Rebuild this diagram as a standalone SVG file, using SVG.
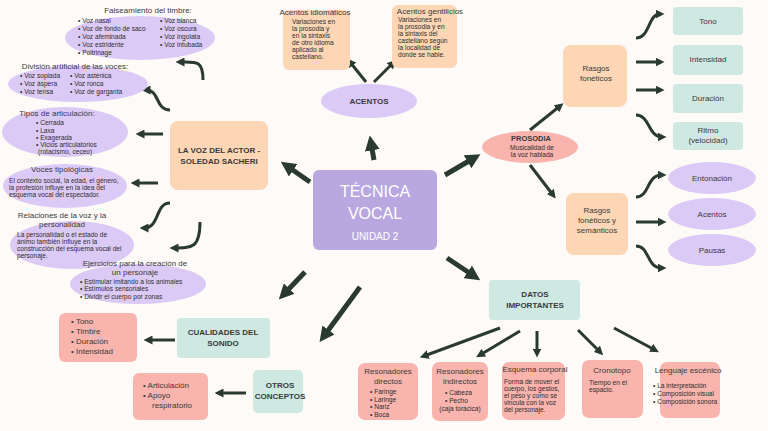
<svg xmlns="http://www.w3.org/2000/svg" width="768" height="431" viewBox="0 0 768 431">
<defs>
<marker id="ah" viewBox="0 0 10 10" refX="5" refY="5" markerWidth="3" markerHeight="3" orient="auto"><path d="M0,0 L10,5 L0,10 z" fill="#2b3a30"/></marker>
<style>
text{font-family:"Liberation Sans",Arial,sans-serif;fill:#2e2e2e}
.t{font-size:8px;font-weight:bold;fill:#3a3a3a}
.s{font-size:6.6px}
.m{font-size:8px;fill:#3a3a3a}
.c{text-anchor:middle}
.pu{fill:#dccaf6}
.pe{fill:#fdd6b5}
.te{fill:#cde9e2}
.pk{fill:#f8b4ad}
.a{fill:none;stroke:#2b3a30;stroke-width:3;marker-end:url(#ah)}
.A{fill:none;stroke:#2b3a30;stroke-width:5;marker-end:url(#ah)}
</style>
</defs>
<rect width="768" height="431" fill="#fdfaf7"/>
<g id="connectors">
<line class="A" x1="310" y1="182" x2="287" y2="166"/>
<line class="A" x1="374" y1="160" x2="371" y2="143"/>
<line class="A" x1="445" y1="175" x2="474" y2="158"/>
<line class="A" x1="447" y1="258" x2="474" y2="276"/>
<line class="A" x1="305" y1="272" x2="284" y2="294"/>
<line class="A" x1="360" y1="287" x2="324" y2="336"/>
<line class="a" x1="366" y1="82" x2="350" y2="62"/>
<line class="a" x1="374" y1="82" x2="393" y2="63"/>
<line class="a" x1="530" y1="130" x2="560" y2="106"/>
<line class="a" x1="530" y1="165" x2="553" y2="195"/>
<path class="a" d="M636,38 C650,38 648,14 660,14"/>
<line class="a" x1="636" y1="62" x2="660" y2="62"/>
<line class="a" x1="636" y1="90" x2="660" y2="90"/>
<path class="a" d="M636,115 C650,115 648,137 662,137"/>
<path class="a" d="M636,197 C650,197 646,175 662,175"/>
<line class="a" x1="636" y1="222" x2="662" y2="222"/>
<path class="a" d="M636,246 C650,246 646,268 662,268"/>
<line class="a" x1="500" y1="328" x2="424" y2="356"/>
<line class="a" x1="520" y1="331" x2="480" y2="355"/>
<line class="a" x1="537" y1="331" x2="537" y2="353"/>
<line class="a" x1="578" y1="330" x2="600" y2="352"/>
<line class="a" x1="614" y1="328" x2="655" y2="350"/>
<line class="a" x1="175" y1="340" x2="148" y2="340"/>
<line class="a" x1="246" y1="393" x2="219" y2="393"/>
<path class="a" d="M203,80 C203,60 196,62 180,62"/>
<path class="a" d="M170,110 C155,110 160,90 146,90"/>
<line class="a" x1="163" y1="134" x2="140" y2="134"/>
<line class="a" x1="158" y1="183" x2="135" y2="183"/>
<path class="a" d="M170,203 C155,203 160,228 144,228"/>
<path class="a" d="M200,222 C200,248 192,248 174,248"/>
</g>
<g id="center"><rect x="313" y="170" width="124" height="80" rx="6" fill="#b9a7e0"/><text x="375" y="197" class="c" style="font-size:16px;fill:#fff">TÉCNICA</text><text x="375" y="219" class="c" style="font-size:16px;fill:#fff">VOCAL</text><text x="375" y="240" class="c" style="font-size:10px;fill:#fff">UNIDAD 2</text></g>
<g id="falseamiento"><ellipse cx="140" cy="38" rx="75" ry="22" class="pu"/><text x="148" y="13" class="c m">Falseamiento del timbre:</text>
<text class="s" x="78" y="23">• Voz nasal</text><text class="s" x="78" y="31">• Voz de fondo de saco</text><text class="s" x="78" y="39">• Voz afeminada</text><text class="s" x="78" y="47">• Voz estridente</text><text class="s" x="78" y="55">• Poitrinage</text>
<text class="s" x="160" y="23">• Voz blanca</text><text class="s" x="160" y="31">• Voz oscura</text><text class="s" x="160" y="39">• Voz ingolata</text><text class="s" x="160" y="47">• Voz intubada</text></g>
<g id="division"><ellipse cx="78" cy="84" rx="70" ry="18" class="pu"/><text x="75" y="69" class="c m">División artificial de las voces:</text>
<text class="s" x="20" y="78">• Voz soplada</text><text class="s" x="20" y="86">• Voz áspera</text><text class="s" x="20" y="94">• Voz tensa</text>
<text class="s" x="70" y="78">• Voz asténica</text><text class="s" x="70" y="86">• Voz ronca</text><text class="s" x="70" y="94">• Voz de garganta</text></g>
<g id="tipos"><ellipse cx="65" cy="132" rx="63" ry="25" class="pu"/><text x="57" y="116" class="c m">Tipos de articulación:</text>
<text class="s" x="36" y="125">• Cerrada</text><text class="s" x="36" y="133">• Laxa</text><text class="s" x="36" y="140">• Exagerada</text><text class="s" x="36" y="147">• Vicios   articulatorios</text><text class="s" x="38" y="154">(rotacismo, ceceo)</text></g>
<g id="tipologicas"><ellipse cx="65" cy="186" rx="62" ry="22" class="pu"/><text x="62" y="172" class="c m">Voces tipológicas</text>
<text class="s" x="9" y="183">El contexto social, la edad, el género,</text><text class="s" x="9" y="190">la profesión influye en la idea del</text><text class="s" x="9" y="197">esquema vocal del espectador.</text></g>
<g id="relaciones"><ellipse cx="72" cy="245" rx="62" ry="24" class="pu"/><text x="62" y="218" class="c m">Relaciones de la voz y la</text><text x="62" y="227" class="c m">personalidad</text>
<text class="s" x="17" y="237">La personalidad o el estado de</text><text class="s" x="17" y="244">ánimo también influye en la</text><text class="s" x="17" y="251">construcción del esquema vocal del</text><text class="s" x="17" y="258">personaje.</text></g>
<g id="ejercicios"><ellipse cx="138" cy="284" rx="68" ry="20" class="pu"/><text x="135" y="266" class="c m">Ejercicios para la creación de</text><text x="135" y="275" class="c m">un personaje</text>
<text class="s" x="80" y="284">• Estimular imitando a los animales</text><text class="s" x="80" y="291">• Estímulos sensoriales</text><text class="s" x="80" y="299">• Dividir el cuerpo por zonas</text></g>
<g id="voz-actor"><rect x="170" y="121" width="98" height="69" rx="8" class="pe"/><text x="219" y="153" class="c t">LA VOZ DEL ACTOR -</text><text x="219" y="164" class="c t">SOLEDAD SACHERI</text></g>
<g id="acentos"><ellipse cx="369" cy="101" rx="48" ry="17" class="pu"/><text x="369" y="104" class="c t">ACENTOS</text></g>
<g id="idiomaticos"><rect x="283" y="10" width="67" height="60" rx="6" class="pe"/><text x="315" y="15" class="c m">Acentos idiomáticos</text>
<text class="s" x="292" y="24">Variaciones en</text><text class="s" x="292" y="31">la prosodia y</text><text class="s" x="292" y="38">en la sintaxis</text><text class="s" x="292" y="45">de otro idioma</text><text class="s" x="292" y="52">aplicado al</text><text class="s" x="292" y="59">castellano.</text></g>
<g id="gentilicios"><rect x="392" y="5" width="65" height="63" rx="6" class="pe"/><text x="430" y="14" class="c m">Acentos gentilicios</text>
<text class="s" x="398" y="22">Variaciones en</text><text class="s" x="398" y="29">la prosodia y en</text><text class="s" x="398" y="36">la sintaxis del</text><text class="s" x="398" y="43">castellano según</text><text class="s" x="398" y="50">la localidad de</text><text class="s" x="398" y="57">donde se hable.</text></g>
<g id="prosodia"><ellipse cx="530" cy="147" rx="48" ry="16" class="pk"/><text x="531" y="141" class="c t" style="font-size:7.5px">PROSODIA</text><text x="532" y="150" class="c s">Musicalidad de</text><text x="532" y="157" class="c s">la voz hablada</text></g>
<g id="rasgos-foneticos"><rect x="563" y="45" width="64" height="62" rx="8" class="pe"/><text x="596" y="71" class="c m">Rasgos</text><text x="596" y="81" class="c m">fonéticos</text></g>
<g id="rasgos-semanticos"><rect x="566" y="193" width="62" height="62" rx="8" class="pe"/><text x="597" y="213" class="c m">Rasgos</text><text x="597" y="223" class="c m">fonéticos y</text><text x="597" y="233" class="c m">semánticos</text></g>
<g id="tono"><rect x="673" y="7" width="70" height="28" rx="4" class="te"/><text x="708" y="24" class="c m">Tono</text></g>
<g id="intensidad"><rect x="673" y="45" width="70" height="30" rx="4" class="te"/><text x="708" y="62" class="c m">Intensidad</text></g>
<g id="duracion"><rect x="673" y="84" width="70" height="29" rx="4" class="te"/><text x="708" y="101" class="c m">Duración</text></g>
<g id="ritmo"><rect x="673" y="122" width="70" height="28" rx="4" class="te"/><text x="708" y="133" class="c m">Ritmo</text><text x="708" y="143" class="c m">(velocidad)</text></g>
<g id="entonacion"><ellipse cx="712" cy="178" rx="44" ry="16" class="pu"/><text x="712" y="181" class="c m">Entonación</text></g>
<g id="acentos2"><ellipse cx="712" cy="214" rx="44" ry="16" class="pu"/><text x="712" y="217" class="c m">Acentos</text></g>
<g id="pausas"><ellipse cx="712" cy="250" rx="44" ry="16" class="pu"/><text x="712" y="253" class="c m">Pausas</text></g>
<g id="datos"><rect x="489" y="280" width="91" height="40" rx="4" class="te"/><text x="535" y="297" class="c t">DATOS</text><text x="535" y="308" class="c t">IMPORTANTES</text></g>
<g id="res-directos"><rect x="358" y="363" width="60" height="57" rx="7" class="pk"/><text x="388" y="374" class="c m">Resonadores</text><text x="388" y="384" class="c m">directos</text><text class="s" x="370" y="394">• Faringe</text><text class="s" x="370" y="402">• Laringe</text><text class="s" x="370" y="409">• Nariz</text><text class="s" x="370" y="417">• Boca</text></g>
<g id="res-indirectos"><rect x="432" y="362" width="56" height="59" rx="7" class="pk"/><text x="460" y="374" class="c m">Resonadores</text><text x="460" y="384" class="c m">indirectos</text><text class="s" x="445" y="395">• Cabeza</text><text class="s" x="445" y="403">• Pecho</text><text class="s c" x="460" y="411">(caja torácica)</text></g>
<g id="esquema"><rect x="502" y="362" width="63" height="58" rx="7" class="pk"/><text x="535" y="372" class="c m">Esquema corporal</text><text class="s" x="504" y="384">Forma de mover el</text><text class="s" x="504" y="391">cuerpo, los gestos,</text><text class="s" x="504" y="398">el peso y como se</text><text class="s" x="504" y="405">vincula con la voz</text><text class="s" x="504" y="412">del personaje.</text></g>
<g id="cronotopo"><rect x="582" y="360" width="61" height="58" rx="7" class="pk"/><text x="612" y="373" class="c m">Cronotopo</text><text class="s" x="589" y="385">Tiempo en el</text><text class="s" x="589" y="392">espacio.</text></g>
<g id="lenguaje"><rect x="660" y="362" width="60" height="56" rx="7" class="pk"/><text x="688" y="373" class="c m">Lenguaje escénico</text><text class="s" x="653" y="388">• La interpretación</text><text class="s" x="653" y="396">• Composición visual</text><text class="s" x="653" y="404">• Composición sonora</text></g>
<g id="cualidades"><rect x="177" y="318" width="93" height="40" rx="4" class="te"/><text x="223" y="335" class="c t">CUALIDADES DEL</text><text x="223" y="346" class="c t">SONIDO</text></g>
<g id="cualidades-lista"><rect x="59" y="313" width="78" height="49" rx="6" class="pk"/><text class="m" x="71" y="324">•  Tono</text><text class="m" x="71" y="334">•  Timbre</text><text class="m" x="71" y="344">•  Duración</text><text class="m" x="71" y="354">•  Intensidad</text></g>
<g id="otros"><rect x="253" y="370" width="50" height="43" rx="5" class="te"/><text x="280" y="388" class="c t">OTROS</text><text x="280" y="399" class="c t">CONCEPTOS</text></g>
<g id="otros-lista"><rect x="133" y="373" width="75" height="47" rx="6" class="pk"/><text class="m" x="143" y="388">•  Articulación</text><text class="m" x="143" y="398">•  Apoyo</text><text class="m" x="152" y="408">respiratorio</text></g>
</svg>
